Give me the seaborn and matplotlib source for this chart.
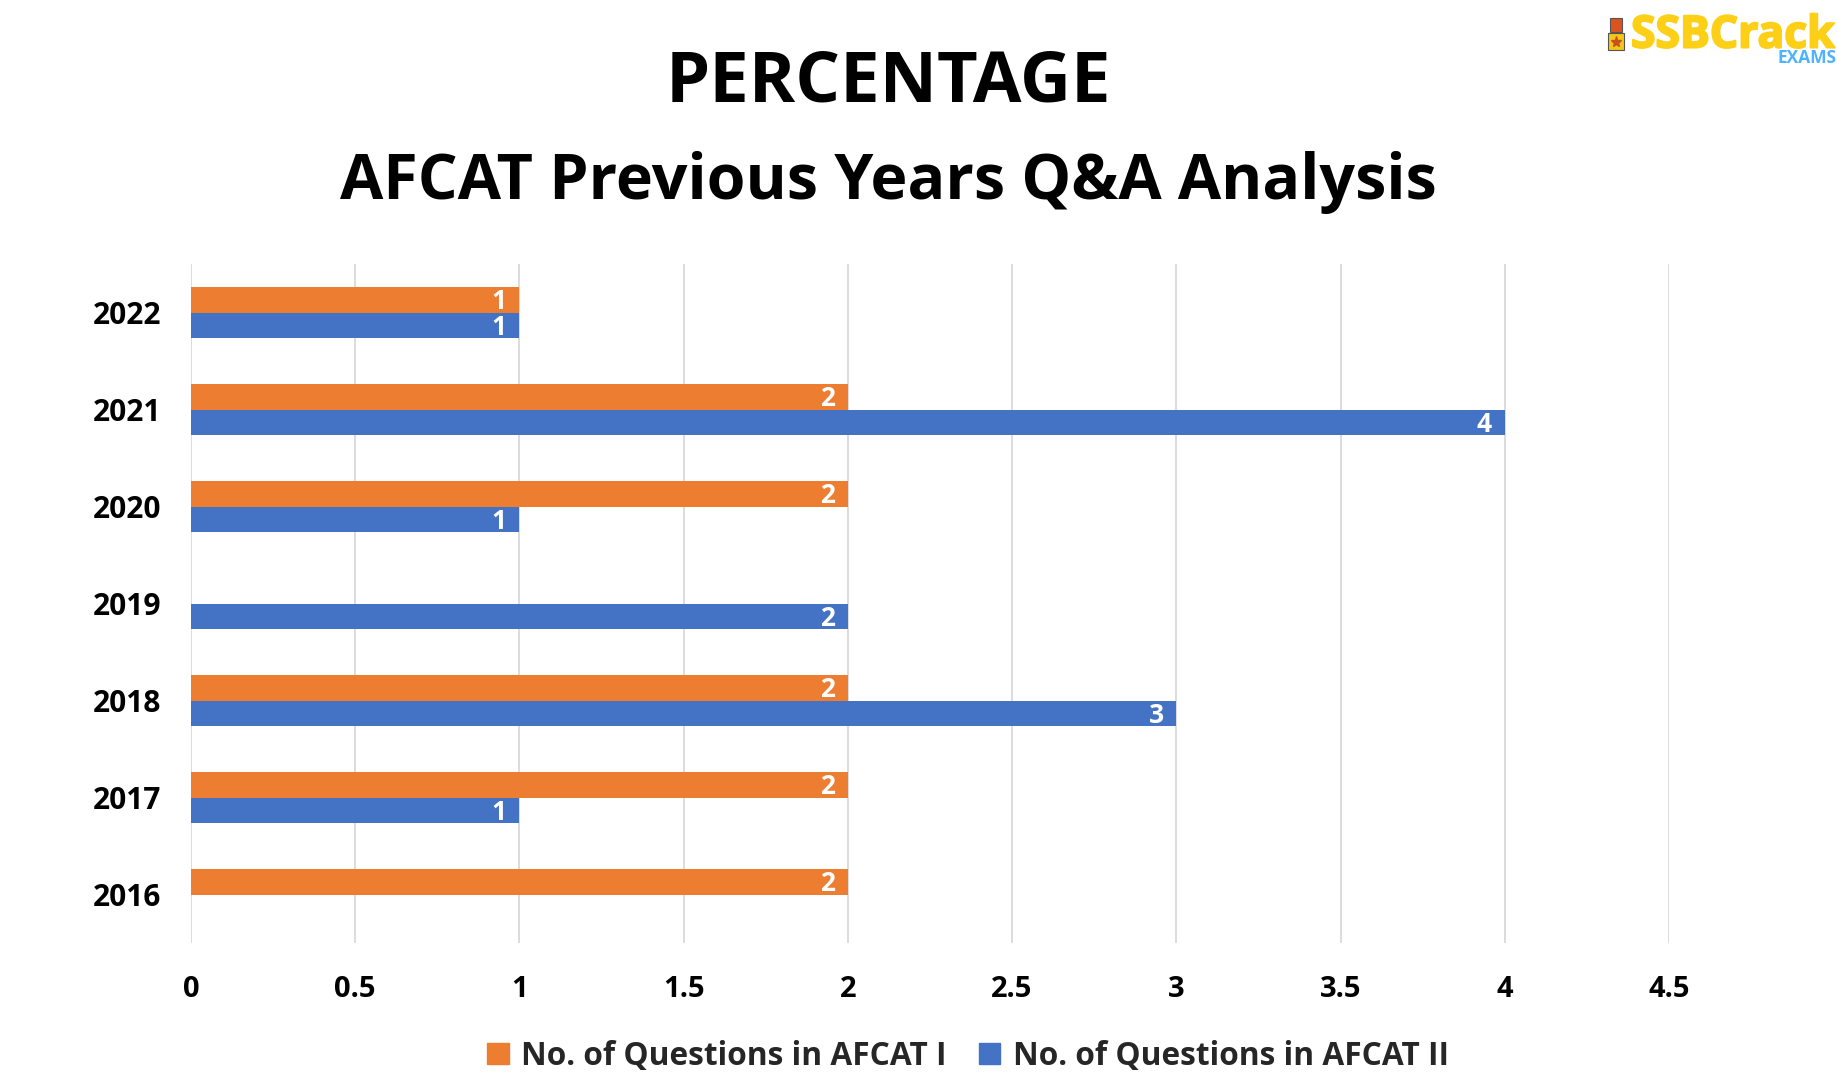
import pandas as pd
import matplotlib.pyplot as plt
import matplotlib.patheffects as pe
from matplotlib.lines import Line2D
from matplotlib.patches import Rectangle
import seaborn as sns

years = ['2022', '2021', '2020', '2019', '2018', '2017', '2016']
afcat_1 = [1, 2, 2, None, 2, 2, 2]
afcat_2 = [1, 4, 1, 2, 3, 1, None]
series_names = ['No. of Questions in AFCAT I', 'No. of Questions in AFCAT II']
x_ticks = [0, 0.5, 1, 1.5, 2, 2.5, 3, 3.5, 4, 4.5]
x_tick_labels = ['0', '0.5', '1', '1.5', '2', '2.5', '3', '3.5', '4', '4.5']

W, H = 1837, 1077
ORANGE = '#ed7d31'
BLUE = '#4472c4'

sns.set_theme(style='white')
plt.rcParams['font.family'] = ['Open Sans', 'DejaVu Sans']
plt.rcParams['font.weight'] = 'bold'

df = pd.DataFrame({'year': years, series_names[0]: afcat_1, series_names[1]: afcat_2})
df = df.melt(id_vars='year', var_name='exam', value_name='questions')

fig = plt.figure(figsize=(W / 100, H / 100), dpi=100, facecolor='white')
ax = fig.add_axes([191 / W, 1 - 943 / H, 1478 / W, 679 / H])

sns.barplot(data=df, x='questions', y='year', hue='exam', order=years, hue_order=series_names,
            palette=[ORANGE, BLUE], width=0.527, gap=0, saturation=1, orient='h', ax=ax, zorder=3,
            linewidth=0)

for container in ax.containers:
    labels = ax.bar_label(container, fmt='%g', label_type='edge', padding=-20, color='white',
                          fontsize=19, fontweight='bold', zorder=4)
    # nudge up a touch, the glyphs sit a little low in the bar otherwise
    for label in labels:
        label.set_y(-1.5)

ax.set_xlim(0, 4.5)
ax.set_ylim(6.5, -0.5)
ax.set_xticks(x_ticks)
ax.set_xticklabels(x_tick_labels)
ax.set_xlabel('')
ax.set_ylabel('')
ax.tick_params(axis='x', length=0, pad=23, labelsize=21, labelcolor='black')
ax.tick_params(axis='y', length=0, pad=21.5, labelsize=21.5, labelcolor='black')
ax.xaxis.grid(True, color='#d9d9d9', linewidth=1.3)
ax.set_axisbelow(True)
sns.despine(ax=ax, left=True, bottom=True)

ax.legend_.remove()
handles = [Rectangle((0, 0), 1, 1, color=ORANGE), Rectangle((0, 0), 1, 1, color=BLUE)]
fig.legend(handles, series_names, loc='center', bbox_to_anchor=(968 / W, 1 - 1056 / H), ncol=2,
           frameon=False, fontsize=22.8, handlelength=0.68, handleheight=0.62, handletextpad=0.4,
           columnspacing=1.0)

fig.text(888 / W, 1 - 84 / H, 'PERCENTAGE', ha='center', va='center', fontsize=50.7,
         fontweight='bold', color='black')
fig.text(888 / W, 1 - 182 / H, 'AFCAT Previous Years Q&A Analysis', ha='center', va='center',
         fontsize=45.2, fontweight='bold', color='black')

# logo
fig.text(1631 / W, 1 - 36 / H, 'SSBCrack', ha='left', va='center', fontsize=32,
         fontweight='bold', color='#fdd017',
         path_effects=[pe.withStroke(linewidth=1.5, foreground='#fdd017')])
fig.text(1837 / W, 1 - 58 / H, 'EXAMS', ha='right', va='center', fontsize=12.5,
         fontweight='bold', color='#4db2ff')
fig.add_artist(Rectangle((1610 / W, 1 - 32 / H), 12 / W, 14 / H, transform=fig.transFigure,
                         facecolor='#d9541e', edgecolor='#555555', linewidth=0.8))
fig.add_artist(Rectangle((1608 / W, 1 - 50 / H), 16 / W, 17 / H, transform=fig.transFigure,
                         facecolor='#f5c518', edgecolor='#555555', linewidth=0.8))
fig.add_artist(Line2D([1616 / W], [1 - 41.5 / H], transform=fig.transFigure, marker='*',
                      markersize=8, color='#c8501e', linestyle='none'))

fig.savefig('out.png', dpi=100)
plt.close(fig)
